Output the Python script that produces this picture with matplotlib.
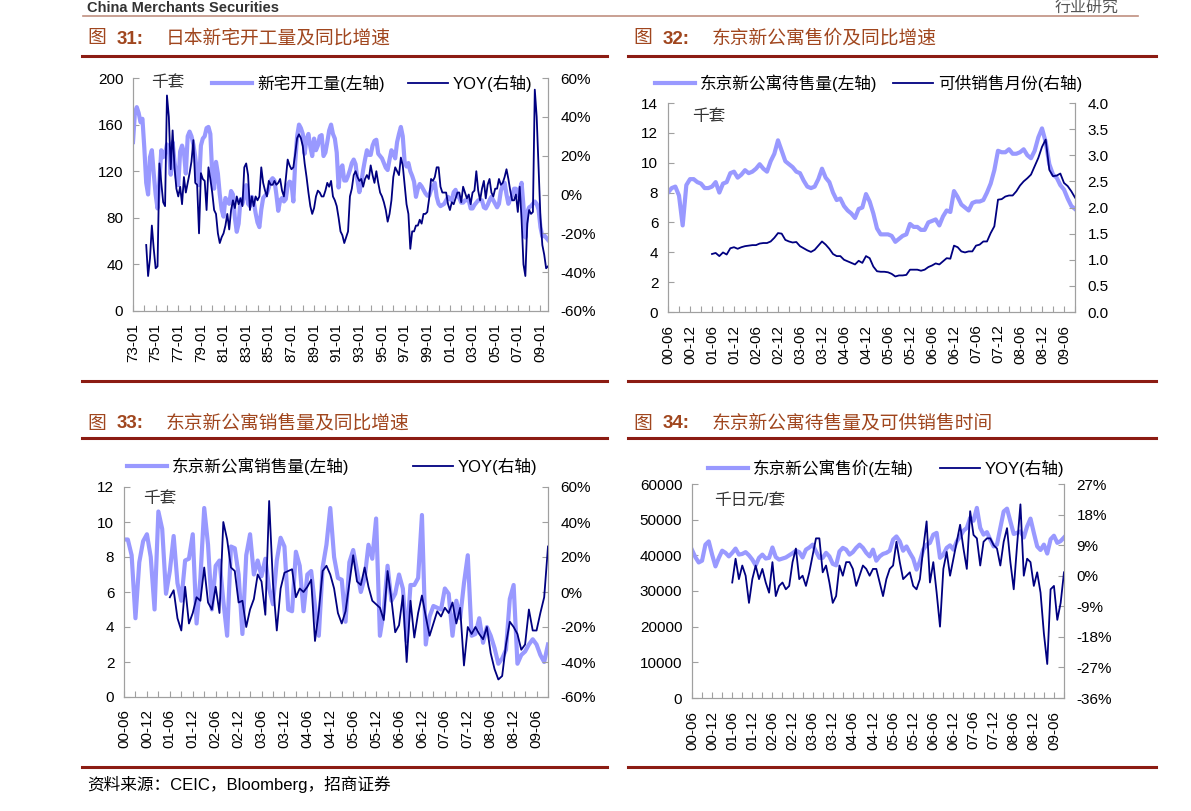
import numpy as np
import matplotlib
matplotlib.use('Agg')
import matplotlib.pyplot as plt
from matplotlib.lines import Line2D
from matplotlib.ticker import FuncFormatter

plt.rcParams['font.family'] = ['Liberation Sans', 'Noto Sans CJK SC']
plt.rcParams['axes.unicode_minus'] = False

W, H = 1191, 811
LIGHT = '#9999ff'
DARK = '#000080'
RED = '#8c1c13'
TITLE_C = '#a0461e'
SPINE = '#a0a0a0'

# ---- 图31: Japan housing starts (thousand units), every 2 months from 1973-01
starts_month = np.arange(0, 441, 2)
starts = [145, 170, 175, 170, 162, 165, 140, 110, 100, 132, 138, 118,
          100, 88, 112, 138, 132, 135, 143, 140, 117, 145, 128, 116,
          108, 137, 142, 136, 118, 150, 154, 150, 143, 132, 118, 108,
          142, 148, 150, 157, 158, 152, 118, 105, 128, 118, 100, 87,
          81, 97, 94, 92, 103, 100, 80, 68, 75, 96, 92, 100,
          108, 92, 90, 98, 94, 84, 76, 72, 87, 97, 99, 101,
          106, 112, 114, 112, 100, 86, 95, 97, 94, 96, 108, 111,
          110, 94, 128, 150, 160, 157, 152, 135, 148, 152, 141, 133,
          148, 138, 142, 150, 151, 133, 136, 145, 155, 160, 152, 148,
          136, 106, 122, 125, 112, 112, 116, 121, 127, 130, 126, 112,
          102, 110, 121, 130, 138, 134, 134, 142, 146, 147, 135, 133,
          131, 127, 123, 121, 130, 138, 135, 131, 145, 152, 158, 150,
          128, 124, 127, 120, 116, 111, 98, 105, 109, 107, 104, 101,
          99, 99, 104, 107, 110, 98, 92, 90, 91, 92, 95, 98,
          96, 95, 102, 104, 99, 97, 93, 93, 95, 95, 95, 88,
          88, 91, 93, 95, 95, 95, 89, 88, 91, 95, 98, 95,
          92, 89, 92, 103, 108, 110, 100, 92, 96, 99, 105, 105,
          99, 104, 110, 90, 63, 85, 89, 90, 92, 94, 92, 87,
          72, 64, 65, 63, 61]
starts_yoy_month = np.arange(14, 441, 2)
starts_yoy = [-26, -42, -33, -16, -28, -38, -37, 16, 6, -4, -6, 51,
              40, 13, 33, 14, 3, -1, 4, -5, 9, 1, 6, 11,
              17, 28, 6, 5, -20, 11, 8, 7, -8, 14, 8, 1,
              -8, -10, -20, -25, -22, -20, -16, -10, -18, -8, -3, -7,
              -1, -5, -2, -6, 14, 16, 10, -8, -1, -6, -1, -3,
              -1, 14, 6, 2, -1, 7, 5, 5, 7, 5, 6, 8,
              2, -1, 8, 18, 15, 13, 14, 21, 29, 31, 29, 25,
              16, 9, 1, -6, -10, -7, -1, 2, 1, -1, -1, 2,
              6, 4, 7, -1, -3, -6, -12, -19, -21, -25, -22, -19,
              -1, 3, 10, 12, 9, 7, 8, 4, 8, 10, 8, 15,
              10, 6, 12, 6, 1, -1, -4, -8, -14, -10, -3, 9,
              14, 12, 10, 19, 15, 5, -5, -10, -28, -19, -19, -16,
              -16, -13, -15, -10, -10, -9, -2, 8, 7, 9, 14, 14,
              4, 1, 1, 1, -5, -8, -4, -5, -2, 1, 1, -4,
              4, 1, -2, 0, -5, 1, 2, 12, 2, -3, 3, 7,
              -2, 5, 8, 1, -1, 3, 3, 8, 5, 6, 9, 13,
              8, 2, -3, -3, 0, -9, 4, -13, -36, -42, -15, -8,
              -10, -9, 54, 40, 14, -12, -26, -31, -38, -37]

# ---- monthly series from 2000-06 (index 0) to 2009-09 (index 111)
tokyo_month = np.arange(0, 112)
yoy_month = np.arange(12, 112)

# 图32: unsold stock (thousand units) and months of supply
stock = [8.0, 8.3, 8.4, 7.8, 5.8, 8.5, 8.9, 8.9, 8.7, 8.6, 8.3, 8.3,
         8.4, 8.7, 8.0, 8.6, 8.7, 9.3, 9.4, 9.0, 9.2, 9.5, 9.3, 9.4,
         9.6, 9.9, 9.6, 9.4, 10.1, 10.6, 11.5, 10.8, 10.1, 9.9, 9.7, 9.4,
         9.3, 8.8, 8.4, 8.3, 8.4, 8.9, 9.6, 9.0, 8.7, 8.0, 7.5, 7.6,
         7.1, 6.8, 6.6, 6.3, 6.9, 7.0, 7.9, 7.4, 6.6, 5.6, 5.2, 5.2,
         5.2, 5.1, 4.7, 4.9, 5.1, 5.2, 5.9, 5.7, 5.7, 5.5, 5.5, 6.0,
         6.1, 6.2, 5.8, 6.4, 6.8, 6.7, 8.1, 7.7, 7.2, 7.0, 6.8, 7.3,
         7.4, 7.4, 7.5, 8.0, 8.6, 9.5, 10.8, 10.7, 10.7, 10.9, 10.6, 10.6,
         10.7, 10.9, 10.5, 10.3, 10.8, 11.7, 12.3, 11.4, 9.9, 9.2, 9.0, 8.5,
         8.2, 7.6, 7.1, 6.9]
supply_months = [1.11, 1.13, 1.07, 1.14, 1.10, 1.22, 1.24, 1.21, 1.24, 1.26, 1.27, 1.28,
                 1.28, 1.31, 1.32, 1.32, 1.35, 1.42, 1.51, 1.50, 1.38, 1.35, 1.33, 1.34,
                 1.26, 1.22, 1.18, 1.15, 1.19, 1.27, 1.35, 1.29, 1.21, 1.11, 1.07, 1.07,
                 1.00, 0.97, 0.94, 0.91, 0.98, 0.94, 1.07, 1.03, 0.87, 0.78, 0.77, 0.77,
                 0.76, 0.73, 0.68, 0.70, 0.70, 0.71, 0.81, 0.81, 0.81, 0.79, 0.81, 0.86,
                 0.89, 0.93, 0.91, 0.97, 1.03, 1.02, 1.27, 1.24, 1.16, 1.14, 1.16, 1.16,
                 1.27, 1.29, 1.35, 1.35, 1.51, 1.64, 2.15, 2.16, 2.21, 2.23, 2.23, 2.31,
                 2.42, 2.50, 2.56, 2.63, 2.79, 2.95, 3.16, 3.30, 2.72, 2.60, 2.61, 2.65,
                 2.47, 2.41, 2.31, 2.19]

# 图33: sales (thousand units) and YoY %
sales = [9.0, 9.0, 8.1, 4.5, 7.7, 8.9, 9.3, 8.0, 5.0, 10.6, 9.6, 5.9,
         7.2, 9.2, 6.5, 5.5, 7.8, 7.9, 9.3, 4.2, 6.8, 10.8, 8.7, 5.0,
         7.5, 7.8, 5.5, 3.5, 8.6, 8.5, 7.0, 3.6, 8.1, 9.3, 7.0, 7.8,
         6.9, 7.9, 6.2, 5.3, 7.8, 9.1, 8.6, 5.0, 4.9, 8.3, 7.5, 4.9,
         7.0, 7.2, 5.2, 3.5, 7.4, 8.7, 10.8, 8.0, 6.8, 6.7, 4.3, 7.7,
         8.4, 7.2, 6.0, 6.8, 8.7, 7.9, 10.2, 3.5, 4.9, 7.5, 5.5, 5.9,
         7.0, 6.2, 3.2, 6.4, 6.4, 6.8, 10.4, 3.0, 4.6, 5.2, 5.1, 5.0,
         6.2, 5.9, 3.5, 5.5, 4.5, 6.5, 8.1, 3.5, 3.6, 4.5, 3.1, 4.0,
         3.5, 2.8, 1.9, 2.2, 2.7, 5.6, 6.4, 1.9, 2.4, 2.6, 3.0, 3.3,
         3.0, 2.4, 2.0, 3.0]
sales_yoy = [-3, 1, -15, -22, 3, -18, -12, -3, -5, 14, -6, -10,
             3, -12, 40, 30, 14, 12, -6, -5, -20, -10, -4, 10,
             6, -13, 52, 5, -22, 2, 11, 12, 13, -3, 2, 0,
             3, 7, -28, -11, 12, 15, 10, 2, -12, -18, -11, 5,
             21, 6, 4, 14, 3, -5, -7, -9, -16, 12, -4, -23,
             -19, -2, -40, -5, -26, -12, -2, -14, -25, -18, -11, -14,
             -9, -12, -6, -18, -9, -42, -20, -24, -20, -24, -27, -20,
             -35, -44, -50, -48, -30, -17, -20, -24, -33, -30, -10, -22,
             -22, -12, -3, 26]

# 图34: average price (thousand yen per unit) and YoY %
price = [41500, 39500, 38000, 38500, 43000, 43900, 40200, 36900, 39300, 41300, 40700, 39700,
         40700, 41900, 40200, 40400, 40900, 40000, 38800, 37200, 39300, 40200, 39100, 39300,
         42200, 39500, 38800, 39100, 39400, 40000, 40600, 41300, 40900, 39400, 41600, 42200,
         43000, 41100, 39300, 39300, 40700, 39700, 37600, 37200, 41100, 42100, 41600, 40200,
         40900, 42100, 43000, 42100, 40700, 39700, 41600, 38500, 39700, 40400, 40700, 41300,
         44400, 45300, 43900, 41300, 42500, 40700, 39100, 36000, 38300, 41600, 43000, 43500,
         45800, 46300, 39300, 40200, 42100, 42800, 41600, 43900, 45300, 46900, 47700, 50500,
         49700, 53300, 47700, 45800, 46500, 44400, 42500, 43000, 47700, 52300, 53100, 49500,
         46000, 46300, 46700, 45000, 48100, 50300, 46300, 42500, 41500, 43000, 40500, 44500,
         45500, 43500, 44000, 45000]
price_yoy = [-2, 5, -1, 3, 0, -8, -1, 3, -1, 2, -2, -5,
             4, -6, -3, -2, -4, -3, 4, 8, -1, 0, -3, 1,
             6, 11, 11, 1, 3, -2, -8, -6, 3, 0, 4, 4,
             2, -3, 0, 3, 2, 0, 2, 2, -2, -6, -1, 2,
             3, 10, 4, -1, 0, 1, -3, -4, -1, 8, 16, -2,
             4, -5, -15, 2, 7, 0, 5, 10, 15, 8, 2, 19,
             12, 11, 3, 10, 11, 11, 9, 8, 3, 10, 14, 4,
             -4, 9, 21, 0, 5, 4, -3, 1, -5, -17, -26, -4,
             -3, -13, -8, 1]


def fig_x(px):
    return px / W


def fig_y(py):
    return 1 - py / H


def add_panel(fig, left, top, right, bottom):
    ax = fig.add_axes([left / W, 1 - bottom / H, (right - left) / W, (bottom - top) / H])
    ax2 = ax.twinx()
    for a in (ax, ax2):
        a.spines['top'].set_visible(False)
        for s in ('left', 'right', 'bottom'):
            a.spines[s].set_color(SPINE)
        a.tick_params(direction='in', length=4, color=SPINE, labelsize=11)
    ax.tick_params(axis='y', pad=7)
    ax2.tick_params(axis='y', pad=9)
    ax.tick_params(axis='x', pad=9)
    return ax, ax2


def month_axis_2000(ax):
    ticks = list(range(0, 112, 3))
    labels = []
    for m in ticks:
        if m % 6 == 0:
            labels.append('%02d-%02d' % ((5 + m) // 12, (5 + m) % 12 + 1))
        else:
            labels.append('')
    ax.set_xlim(0, 111)
    ax.set_xticks(ticks)
    ax.set_xticklabels(labels, rotation=90)


def legend_at(ax, line, label, x, y):
    ax.legend([line], [label], loc='center left', bbox_to_anchor=(fig_x(x), fig_y(y)),
              bbox_transform=ax.figure.transFigure, frameon=False, fontsize=12,
              borderpad=0, borderaxespad=0, handlelength=2.4, handletextpad=0.3)


def pct(v, pos):
    return '%d%%' % round(v)


def hline(fig, x0, x1, y, color, lw):
    fig.add_artist(Line2D([fig_x(x0), fig_x(x1)], [fig_y(y), fig_y(y)],
                          transform=fig.transFigure, color=color, lw=lw))


def panel_title(fig, x, y, num, text):
    fig.text(fig_x(x), fig_y(y), '图', fontsize=13.5, color=TITLE_C, va='center')
    fig.text(fig_x(x + 30), fig_y(y), num + ':', fontsize=13.5, color=TITLE_C,
             fontweight='bold', va='center')
    fig.text(fig_x(x + 79), fig_y(y), text, fontsize=13.5, color=TITLE_C, va='center')


fig = plt.figure(figsize=(W / 100, H / 100), dpi=100)

# header
fig.text(fig_x(87), fig_y(1), 'China Merchants Securities', fontsize=10.5,
         fontweight='bold', color='#333333', va='top')
fig.text(fig_x(1055), fig_y(0), '行业研究', fontsize=11.5, color='#555555', va='top')
hline(fig, 83, 1138, 16, '#c09080', 1.2)

# section titles and rules
panel_title(fig, 87, 39, '31', '日本新宅开工量及同比增速')
panel_title(fig, 633, 39, '32', '东京新公寓售价及同比增速')
panel_title(fig, 87, 424, '33', '东京新公寓销售量及同比增速')
panel_title(fig, 633, 424, '34', '东京新公寓待售量及可供销售时间')
for y in (56, 438):
    hline(fig, 82, 607, y, RED, 2.2)
    hline(fig, 628, 1156, y, RED, 2.2)
for y in (381, 767):
    hline(fig, 82, 607, y, RED, 2.2)
    hline(fig, 628, 1156, y, RED, 2.2)
fig.text(fig_x(87), fig_y(784), '资料来源：CEIC，Bloomberg，招商证券', fontsize=12,
         color='black', va='center')

# ---- panel 31
ax, ax2 = add_panel(fig, 133, 78, 548, 311)
l1, = ax.plot(starts_month, starts, color=LIGHT, lw=3)
l2, = ax2.plot(starts_yoy_month, starts_yoy, color=DARK, lw=1.3)
ax.set_ylim(0, 200)
ax.set_yticks(range(0, 201, 40))
ax2.set_ylim(-60, 60)
ax2.set_yticks(range(-60, 61, 20))
ax2.yaxis.set_major_formatter(FuncFormatter(pct))
ticks = list(range(0, 441, 12))
ax.set_xlim(0, 440)
ax.set_xticks(ticks)
ax.set_xticklabels(['%02d-01' % ((73 + m // 12) % 100) if m % 24 == 0 else '' for m in ticks],
                   rotation=90)
fig.text(fig_x(151), fig_y(83), '千套', fontsize=12, color='#333333', va='center')
legend_at(ax, l1, '新宅开工量(左轴)', 212, 83)
legend_at(ax2, l2, 'YOY(右轴)', 408, 83)

# ---- panel 32
ax, ax2 = add_panel(fig, 668, 103, 1075, 312)
l1, = ax.plot(tokyo_month, stock, color=LIGHT, lw=3)
l2, = ax2.plot(yoy_month, supply_months, color=DARK, lw=1.3)
ax.set_ylim(0, 14)
ax.set_yticks(range(0, 15, 2))
ax2.set_ylim(0, 4)
ax2.set_yticks(np.arange(0, 4.01, 0.5))
ax2.yaxis.set_major_formatter(FuncFormatter(lambda v, p: '%.1f' % v))
month_axis_2000(ax)
fig.text(fig_x(692), fig_y(117), '千套', fontsize=12, color='#333333', va='center')
legend_at(ax, l1, '东京新公寓待售量(左轴)', 655, 83)
legend_at(ax2, l2, '可供销售月份(右轴)', 893, 83)

# ---- panel 33
ax, ax2 = add_panel(fig, 124, 487, 548, 697)
l1, = ax.plot(tokyo_month, sales, color=LIGHT, lw=3)
l2, = ax2.plot(yoy_month, sales_yoy, color=DARK, lw=1.3)
ax.set_ylim(0, 12)
ax.set_yticks(range(0, 13, 2))
ax2.set_ylim(-60, 60)
ax2.set_yticks(range(-60, 61, 20))
ax2.yaxis.set_major_formatter(FuncFormatter(pct))
month_axis_2000(ax)
fig.text(fig_x(143), fig_y(499), '千套', fontsize=12, color='#333333', va='center')
legend_at(ax, l1, '东京新公寓销售量(左轴)', 127, 466)
legend_at(ax2, l2, 'YOY(右轴)', 413, 466)

# ---- panel 34
ax, ax2 = add_panel(fig, 692, 484, 1064, 698)
l1, = ax.plot(tokyo_month, price, color=LIGHT, lw=3)
l2, = ax2.plot(yoy_month, price_yoy, color=DARK, lw=1.3)
ax.set_ylim(0, 60000)
ax.set_yticks(range(0, 60001, 10000))
ax2.set_ylim(-36, 27)
ax2.set_yticks(range(-36, 28, 9))
ax2.yaxis.set_major_formatter(FuncFormatter(pct))
month_axis_2000(ax)
fig.text(fig_x(714), fig_y(501), '千日元/套', fontsize=12, color='#333333', va='center')
legend_at(ax, l1, '东京新公寓售价(左轴)', 708, 468)
legend_at(ax2, l2, 'YOY(右轴)', 940, 468)

fig.savefig('out.png', dpi=100)
